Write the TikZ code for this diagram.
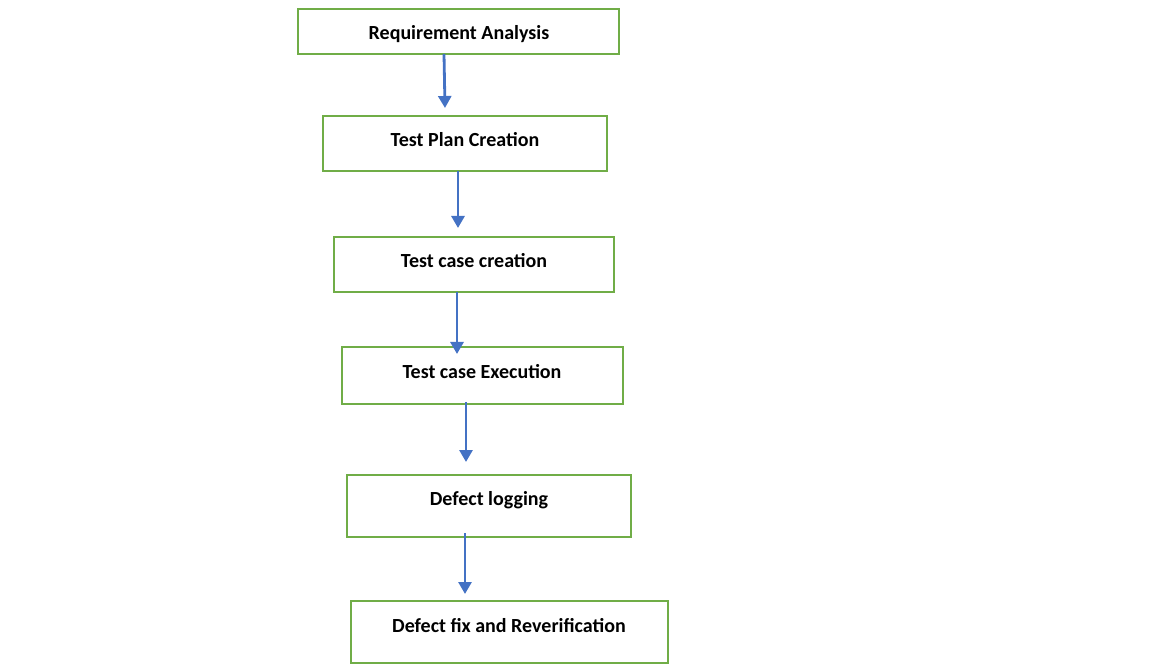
\documentclass[tikz,border=0pt]{standalone}
\usepackage{fontspec}
\setmainfont{Carlito}
\usetikzlibrary{arrows.meta}
\definecolor{bgreen}{HTML}{70AD47}
\definecolor{ablue}{HTML}{4472C4}
\begin{document}
\begin{tikzpicture}[x=1pt,y=-1pt,
  box/.style={draw=bgreen,line width=1.3pt,inner sep=0pt},
  lbl/.style={font=\fontsize{20}{24}\selectfont\bfseries,inner sep=0pt},
  arr/.style={draw=ablue,line width=2.8pt,-{Triangle[width=13pt,length=12pt]}}]
\useasboundingbox (0,0) rectangle (1152,668);
\path[box] (298,9) rectangle (619,54) coordinate (b1);
\path[box] (323,116) rectangle (607,171) coordinate (b2);
\path[box] (334,237) rectangle (614,292) coordinate (b3);
\path[box] (342,347) rectangle (623,404) coordinate (b4);
\path[box] (347,475) rectangle (631,537) coordinate (b5);
\path[box] (351,601) rectangle (668,663) coordinate (b6);
\node[lbl] (t1) at (459,34) {Requirement Analysis};
\node[lbl] (t2) at (465,140) {Test Plan Creation};
\node[lbl] (t3) at (474,261) {Test case creation};
\node[lbl] (t4) at (482,372) {Test case Execution};
\node[lbl] (t5) at (489,500) {Defect logging};
\node[lbl] (t6) at (509,626) {Defect fix and Reverification};
\coordinate (s1) at (444,54);  \coordinate (e1) at (445,108);
\coordinate (s2) at (458,171); \coordinate (e2) at (458,228);
\coordinate (s3) at (457,292); \coordinate (e3) at (457,354);
\coordinate (s4) at (466,402); \coordinate (e4) at (466,462);
\coordinate (s5) at (465,533); \coordinate (e5) at (465,594);
\draw[arr] (s1) -- (e1);
\draw[arr] (s2) -- (e2);
\draw[arr] (s3) -- (e3);
\draw[arr] (s4) -- (e4);
\draw[arr] (s5) -- (e5);
\end{tikzpicture}
\end{document}
